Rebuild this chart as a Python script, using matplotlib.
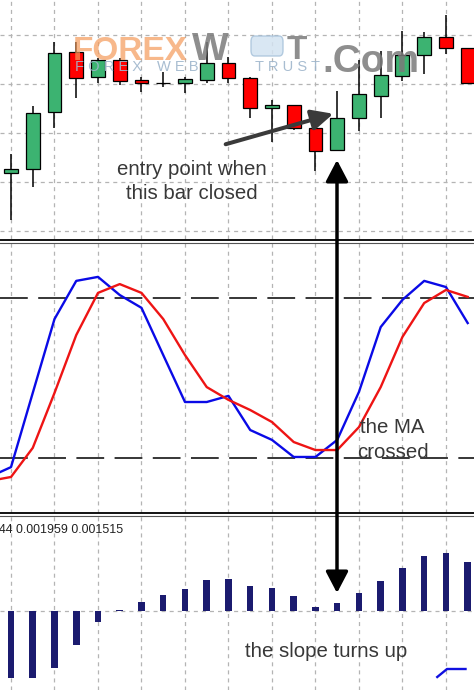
import matplotlib
matplotlib.use("Agg")
import matplotlib.pyplot as plt
import numpy as np
from matplotlib.patches import FancyArrowPatch, FancyBboxPatch
from matplotlib.lines import Line2D

plt.rcParams['font.family'] = ['Liberation Sans', 'DejaVu Sans']
plt.rcParams['lines.scale_dashes'] = False

# ---------------- data ----------------
bar_index = list(range(22))
opens  = [1.3227, 1.3231, 1.3288, 1.3348, 1.3323, 1.3340, 1.3320, 1.3317, 1.3317, 1.3320, 1.3337,
          1.3322, 1.3292, 1.3295, 1.3272, 1.3250, 1.3282, 1.3304, 1.3324, 1.3345, 1.3363, 1.3352]
highs  = [1.3246, 1.3294, 1.3358, 1.3358, 1.3342, 1.3342, 1.3323, 1.3328, 1.3323, 1.3358, 1.3343,
          1.3323, 1.3300, 1.3295, 1.3272, 1.3309, 1.3340, 1.3349, 1.3369, 1.3368, 1.3385, 1.3352]
lows   = [1.3180, 1.3213, 1.3272, 1.3302, 1.3317, 1.3315, 1.3308, 1.3313, 1.3307, 1.3317, 1.3317,
          1.3282, 1.3258, 1.3270, 1.3229, 1.3250, 1.3269, 1.3282, 1.3319, 1.3326, 1.3346, 1.3317]
closes = [1.3231, 1.3287, 1.3347, 1.3322, 1.3340, 1.3319, 1.3317, 1.3317, 1.3321, 1.3337, 1.3322,
          1.3292, 1.3295, 1.3272, 1.3249, 1.3282, 1.3306, 1.3325, 1.3345, 1.3363, 1.3352, 1.3317]
price_grid = [1.3169, 1.3218, 1.3267, 1.3316, 1.3365]

stoch_index = list(range(-1, 22))
stoch_main = [12.9, 16.6, 44.4, 72.1, 86.4, 87.9, 81.1, 76.3, 58.6, 41.0, 41.0, 43.3,
              30.5, 26.8, 20.4, 20.4, 26.8, 44.8, 69.1, 79.3, 86.4, 84.1, 70.6]
stoch_signal = [11.4, 12.9, 23.8, 44.4, 66.1, 81.9, 85.2, 81.9, 72.1, 58.6, 46.6, 41.8,
                38.0, 33.5, 26.0, 23.0, 23.0, 31.6, 46.6, 65.4, 78.1, 83.0, 80.4]
stoch_levels = [20, 80]

macd_hist = [-0.00268, -0.00268, -0.00228, -0.00136, -0.00044, 0.00004, 0.00036, 0.00064,
             0.00088, 0.00124, 0.00128, 0.00100, 0.00092, 0.00060, 0.00016, 0.00032,
             0.00072, 0.00120, 0.00172, 0.00220, 0.00232, 0.00196]
tail_x = [19.6, 20.05, 20.9]
tail_y = [-0.00264, -0.00232, -0.00232]
macd_label = "44 0.001959 0.001515"

# ---------------- layout ----------------
W, H = 474, 690
fig = plt.figure(figsize=(4.74, 6.90), dpi=100)
fig.patch.set_facecolor('white')

def fx(x):
    return x / W

def fy(y):
    return 1 - y / H

XLIM = (-0.506, 21.29)
grid_kw = dict(color='#b4b4b4', lw=0.9, linestyle=(0, (2.9, 2.9)))

ax_p = fig.add_axes([0, fy(239), 1, 239 / H])
ax_s = fig.add_axes([0, fy(513), 1, (513 - 243) / H])
ax_h = fig.add_axes([0, 0, 1, (690 - 516) / H])

for ax in (ax_p, ax_s, ax_h):
    ax.set_xlim(*XLIM)
    ax.set_xticks(np.arange(0, 22, 2))
    ax.tick_params(length=0, labelbottom=False, labelleft=False)
    for sp in ax.spines.values():
        sp.set_visible(False)
    ax.grid(axis='x', **grid_kw)
    ax.set_axisbelow(True)

# price panel
ax_p.set_ylim(1.3161, 1.3400)
ax_p.set_yticks(price_grid)
ax_p.grid(axis='y', **grid_kw)
o = np.array(opens); c = np.array(closes)
body_bottom = np.minimum(o, c)
body_h = np.abs(c - o)
cols = ['#3cb371' if cc >= oo else '#ff0000' for oo, cc in zip(o, c)]
ax_p.vlines(bar_index, lows, highs, color='black', lw=1.1, zorder=2)
ax_p.bar(bar_index, body_h, bottom=body_bottom, width=0.64, color=cols,
         edgecolor='black', linewidth=0.9, zorder=3)

# stochastic panel
ax_s.set_ylim(-0.6, 100.6)
for lv in stoch_levels:
    ax_s.axhline(lv, color='black', lw=1.1, linestyle=(0, (20, 7.5)), zorder=1)
ax_s.plot(stoch_index, stoch_main, color='#0a0ae6', lw=1.7, zorder=3)
ax_s.plot(stoch_index, stoch_signal, color='#ee1414', lw=1.7, zorder=3)

# histogram panel
ax_h.set_ylim(-0.00316, 0.0038)
ax_h.set_yticks([0])
ax_h.grid(axis='y', **grid_kw)
ax_h.bar(bar_index, macd_hist, width=0.3, color='#1b1b6f', zorder=3)
ax_h.plot(tail_x, tail_y, color='#1010e0', lw=1.7, zorder=3)
fig.text(fx(-1), fy(533), macd_label, fontsize=8.9, color='#222222', va='baseline', ha='left')

# separators
for y, col, lw in [(239.8, 'black', 1.3), (242.6, '#555555', 0.8),
                   (513.2, 'black', 1.3), (516.0, '#555555', 0.8)]:
    fig.add_artist(Line2D([0, 1], [fy(y), fy(y)], transform=fig.transFigure, color=col, lw=lw))

# watermark
fig.text(fx(73), fy(60), "FOREX", fontsize=24, fontweight='bold', color='#f59a5a', alpha=0.7,
         va='baseline', ha='left', zorder=10)
fig.text(fx(192), fy(60), "W", fontsize=28, fontweight='bold', color='#7a7a7a', alpha=0.85,
         va='baseline', ha='left', zorder=10)
fig.add_artist(FancyBboxPatch((fx(251), fy(56)), fx(32), 20 / H,
                              boxstyle='round,pad=0.0,rounding_size=0.008',
                              transform=fig.transFigure, facecolor='#d3e3f1',
                              edgecolor='#a8c3db', lw=1.0, alpha=0.85, zorder=10))
fig.text(fx(287), fy(59), "T", fontsize=24, fontweight='bold', color='#7a7a7a', alpha=0.85,
         va='baseline', ha='left', zorder=10)
fig.text(fx(322), fy(72), ".Com", fontsize=28, fontweight='bold', color='#7a7a7a', alpha=0.85,
         va='baseline', ha='left', zorder=10)
for word, x0 in [("F O R E X", 75), ("W E B", 157), ("T R U S T", 255)]:
    fig.text(fx(x0), fy(71), word, fontsize=10.5, color='#9fb6cc', alpha=0.9,
             va='baseline', ha='left', zorder=10)

# annotations
txt_kw = dict(fontsize=14.7, color='#383838', va='baseline', ha='center', zorder=12)
fig.text(fx(192), fy(175), "entry point when", **txt_kw)
fig.text(fx(192), fy(199), "this bar closed", **txt_kw)
fig.text(fx(392), fy(433), "the MA", **txt_kw)
fig.text(fx(393), fy(458), "crossed", **txt_kw)
fig.text(fx(326), fy(657), "the slope turns up", **txt_kw)

fig.add_artist(FancyArrowPatch((fx(223), fy(145)), (fx(336), fy(113)),
                               transform=fig.transFigure,
                               arrowstyle='-|>,head_length=13,head_width=6.2',
                               mutation_scale=1, color='#3a3a3a', lw=2.9, zorder=12))
fig.add_artist(FancyArrowPatch((fx(337), fy(160)), (fx(337), fy(593)),
                               transform=fig.transFigure,
                               arrowstyle='<|-|>,head_length=13,head_width=6.8',
                               mutation_scale=1, color='black', lw=2.5, zorder=12,
                               shrinkA=0, shrinkB=0))

fig.savefig("out.png", dpi=100, facecolor='white')
